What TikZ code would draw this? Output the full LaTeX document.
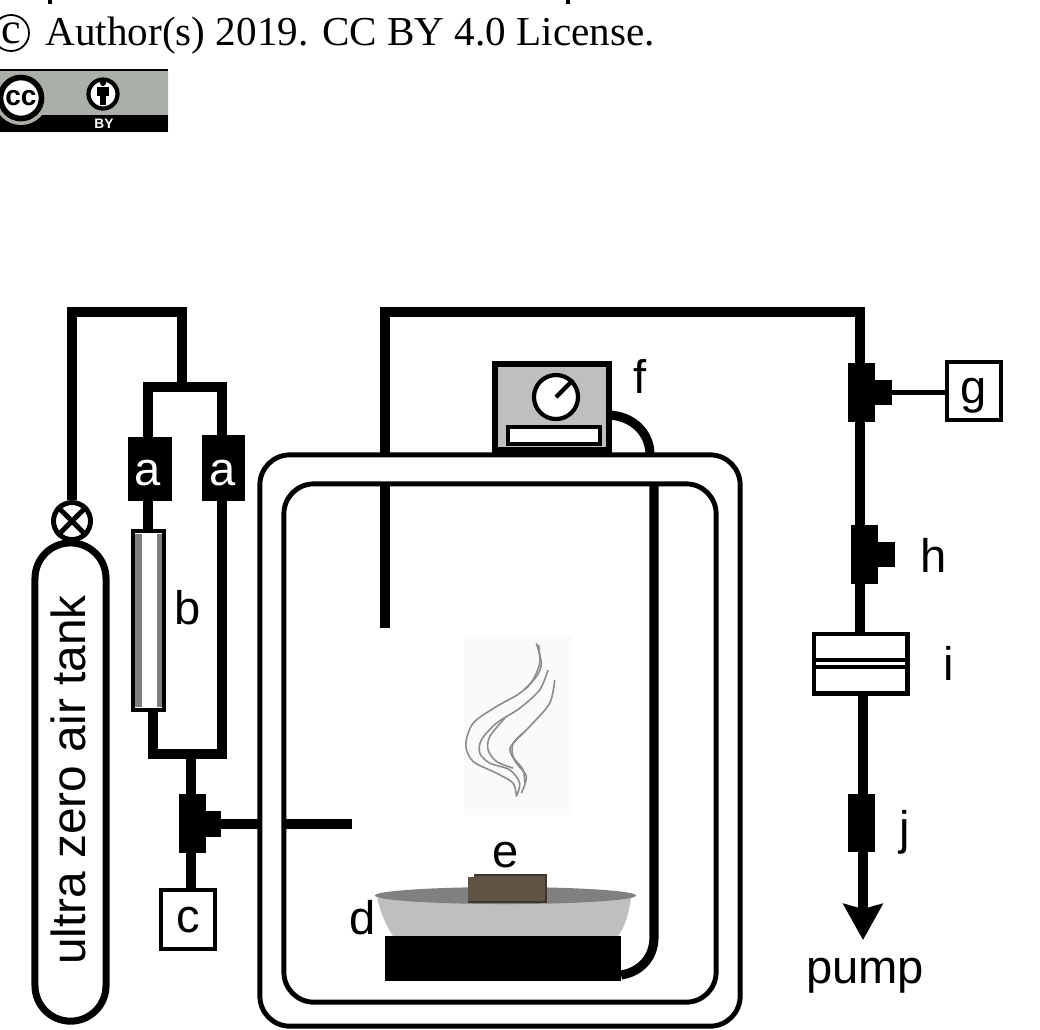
\documentclass[tikz,border=0pt]{standalone}
\usepackage{fontspec}
\setmainfont{Liberation Sans}
\newfontfamily\timesfont{Liberation Serif}
\usetikzlibrary{arrows.meta}
\definecolor{badgegray}{HTML}{AAB0A8}
\definecolor{samplebrown}{HTML}{5F5345}
\definecolor{sampleedge}{HTML}{3F372D}
\definecolor{smokegray}{HTML}{8C8C8C}
\tikzset{
    pipe/.style={line width=2.6pt},
    thinpipe/.style={line width=1.5pt},
    chamber/.style={draw, line width=1.4pt, rounded corners=0.3cm, inner sep=0pt, outer sep=0pt},
    blockbox/.style={fill=black, inner sep=0pt, outer sep=0pt},
    labelbox/.style={draw, line width=1.3pt, fill=white, inner sep=0pt, outer sep=0pt},
    tag/.style={anchor=base, inner sep=0pt, font=\fontsize{13.4}{15}\selectfont},
    strand/.style={smokegray, line width=0.45pt}
}
\begin{document}
\begin{tikzpicture}[x=0.01cm, y=-0.01cm]
    \useasboundingbox (0,0) rectangle (1040,1029);

    % journal footer
    \fill (48,0) rectangle (52,4);
    \fill (566,0) rectangle (570,4);
    \node (ringsign) [draw, circle, line width=0.5pt, minimum size=0.36cm, inner sep=0pt] at (11,33) {\timesfont\fontsize{12.5}{13}\selectfont c};
    \node (licence) [anchor=base west, inner sep=0pt] at (45,45) {\timesfont\fontsize{11.7}{14}\selectfont Author(s) 2019. CC BY 4.0 License.};

    % badge
    \fill[badgegray, rounded corners=0.02cm] (0,70) rectangle (168,132);
    \fill[black] (0,115) rectangle (168,132);
    \draw[black, line width=0.5pt] (0,70) -- (168,70);
    \fill[badgegray] (21,98) circle (27);
    \node (ccsign) [draw, circle, fill=white, line width=1.6pt, minimum size=0.41cm, inner sep=0pt, font=\bfseries\fontsize{8}{9}\selectfont] at (21,98) {cc};
    \node (bysign) [draw, circle, fill=white, line width=1.2pt, minimum size=0.29cm, inner sep=0pt] at (103,94) {};
    \fill (103,83) circle (3);
    \fill (97,87) rectangle (109,96);
    \fill (100,96) rectangle (106,105);
    \node (bytext) [anchor=base, text=white, inner sep=0pt, font=\bfseries\fontsize{3.9}{5}\selectfont] at (104,128) {BY};

    % chamber
    \node (outerwall) [chamber, minimum width=4.80cm, minimum height=5.71cm] at (500,740.5) {};
    \node (innerwall) [chamber, minimum width=4.32cm, minimum height=5.18cm] at (500,743) {};

    % smoke
    \fill[black!2] (464,636) rectangle (572,815);
    \begin{scope}[shift={(340,620)}, x=0.00333cm, y=-0.00333cm]
        \draw[strand] plot[smooth] coordinates {(590,70) (605,130) (590,170) (540,220) (470,260) (400,310) (378,375) (400,425) (470,460) (520,490) (530,530)};
        \draw[strand] plot[smooth] coordinates {(625,150) (600,210) (540,265) (470,310) (425,360) (420,400) (450,430) (510,450) (540,490) (530,530)};
        \draw[strand] plot[smooth] coordinates {(645,180) (630,250) (570,320) (530,360) (510,390) (530,430) (560,470) (545,520)};
        \draw[strand] plot[smooth] coordinates {(495,295) (450,350) (445,390) (470,425) (520,445)};
        \draw[strand] plot[smooth] coordinates {(550,340) (520,370) (520,410) (550,450) (555,490)};
        \draw[strand] plot[smooth] coordinates {(597,75) (600,130) (580,180) (555,210)};
    \end{scope}

    % dish and sample
    \fill[black!25] (377,898) .. controls (382,918) and (388,928) .. (393,936) -- (618,936) .. controls (624,928) and (628,918) .. (631,898) -- cycle;
    \fill[black!50] (505.5,895.5) ellipse (130.5 and 8.5);
    \node (sample) [fill=samplebrown, inner sep=0pt, minimum width=0.78cm, minimum height=0.25cm] at (507,889.5) {};
    \fill[samplebrown] (474,874) rectangle (546,878);
    \draw[sampleedge, line width=0.4pt] (474,875) -- (546,875) -- (546,902) -- (468,902);
    \node (heater) [blockbox, minimum width=2.36cm, minimum height=0.45cm] at (503,958.5) {};

    % monitor
    \node (monitor) [draw, fill=black!25, line width=1.7pt, inner sep=0pt, outer sep=0pt, minimum width=1.14cm, minimum height=0.86cm] at (552,407) {};
    \node (dial) [draw, circle, fill=white, line width=1.2pt, inner sep=0pt, minimum size=0.44cm] at (556,397) {};
    \draw[line width=1.2pt] (dial.center) -- (dial.45);
    \node (display) [draw, fill=white, line width=1.2pt, inner sep=0pt, minimum width=0.92cm, minimum height=0.17cm] at (554,435.5) {};

    % inlet side
    \node (tank) [draw, line width=2pt, rounded corners=0.355cm, inner sep=0pt, outer sep=0pt, minimum width=0.71cm, minimum height=4.78cm] at (70.5,782) {};
    \node (tanktext) [tag, rotate=90, font=\fontsize{13.6}{15}\selectfont] at (85,780) {ultra zero air tank};
    \node (valve) [draw, circle, fill=white, line width=1.4pt, inner sep=0pt, minimum size=0.37cm] at (72,521) {};
    \draw[line width=1.4pt] (valve.45) -- (valve.225) (valve.135) -- (valve.315);
    \node (mfcleft) [blockbox, minimum width=0.44cm, minimum height=0.64cm] at (150,469) {};
    \node (mfcright) [blockbox, minimum width=0.43cm, minimum height=0.66cm] at (223.5,468) {};
    \node (scrubber) [draw, fill=white, line width=1.3pt, inner sep=0pt, outer sep=0pt, minimum width=0.31cm, minimum height=1.79cm] at (148.5,620.5) {};
    \fill[black!50] (135,534) rectangle (142,707);
    \fill[black!50] (156.5,534) rectangle (162,707);
    \node (teeleft) [blockbox, minimum width=0.27cm, minimum height=0.59cm] at (192.5,823.5) {};
    \node (teeleftside) [blockbox, minimum width=0.20cm, minimum height=0.26cm] at (211,824) {};
    \node (boxc) [labelbox, minimum width=0.54cm, minimum height=0.59cm] at (188,919.5) {};

    % outlet side
    \node (teeright) [blockbox, minimum width=0.27cm, minimum height=0.59cm] at (861.5,392.5) {};
    \node (teerightside) [blockbox, minimum width=0.20cm, minimum height=0.25cm] at (882,392.5) {};
    \node (boxg) [labelbox, minimum width=0.54cm, minimum height=0.58cm] at (974,391) {};
    \node (blockh) [blockbox, minimum width=0.27cm, minimum height=0.59cm] at (864.5,554.5) {};
    \node (blockhside) [blockbox, minimum width=0.20cm, minimum height=0.25cm] at (885,554.5) {};
    \node (filter) [draw, line width=1.4pt, inner sep=0pt, outer sep=0pt, minimum width=0.93cm, minimum height=0.59cm] at (860.5,663.5) {};
    \draw[line width=1.2pt] (filter.west |- 0,660) -- (filter.east |- 0,660) (filter.west |- 0,667) -- (filter.east |- 0,667);
    \node (blockj) [blockbox, minimum width=0.27cm, minimum height=0.58cm] at (861.5,823) {};

    % tubing
    \coordinate (airtop) at (182,312);
    \coordinate (split) at (182,387);
    \coordinate (branchleft) at (148,387);
    \coordinate (branchright) at (222,387);
    \coordinate (mergeleft) at (153,754);
    \coordinate (mergeright) at (222,754);
    \coordinate (merge) at (191,754);
    \coordinate (inlettop) at (385,312);
    \coordinate (inletout) at (385,455);
    \coordinate (inletin) at (385,484);
    \coordinate (inletend) at (385,628);
    \coordinate (outlettop) at (860,312);
    \coordinate (pumpend) at (863,940);
    \coordinate (feedout) at (260,824);
    \coordinate (feedin) at (284,824);
    \coordinate (feedend) at (352,824);
    \coordinate (cableout) at (650,455);
    \coordinate (cablein) at (654,484);
    \coordinate (cablebend) at (654,937);

    \draw[pipe] (valve.north) |- (airtop) -- (split);
    \draw[pipe] (mfcleft.north -| branchleft) |- (branchright) -- (mfcright.north -| branchright);
    \draw[pipe] (mfcleft.south -| branchleft) -- (scrubber.north -| branchleft);
    \draw[pipe] (scrubber.south -| mergeleft) |- (mergeright) -- (mfcright.south -| mergeright);
    \draw[pipe] (merge) -- (teeleft.north -| merge);
    \draw[pipe] (teeleft.south -| merge) -- (boxc.north -| merge);
    \draw[pipe] (teeleftside.east) -- (feedout);
    \draw[pipe] (feedin) -- (feedend);
    \draw[pipe] (inletout) -- (inlettop) -- (outlettop) -- (filter.north -| outlettop);
    \draw[pipe] (inletin) -- (inletend);
    \draw[thinpipe] (teerightside.east) -- (teerightside.east -| boxg.west);
    \draw[pipe, -{Stealth[length=0.36cm, width=0.39cm, inset=0.05cm]}] (filter.south -| pumpend) -- (pumpend);
    \draw[pipe] (monitor.east |- 0,415) .. controls (632,416) and (650,432) .. (cableout);
    \draw[pipe] (cablein) -- (cablebend) .. controls (654,958) and (640,972) .. (heater.east |- 0,975);

    % labels
    \node (taga) [tag, text=white] at (148,485) {a};
    \node (tagaa) [tag, text=white] at (223,485) {a};
    \node (tagb) [tag] at (188,624) {b};
    \node (tagc) [tag] at (188,932) {c};
    \node (tagd) [tag] at (363,934) {d};
    \node (tage) [tag] at (506,867) {e};
    \node (tagf) [tag] at (640,393) {f};
    \node (tagg) [tag] at (974,403) {g};
    \node (tagh) [tag] at (934,572) {h};
    \node (tagi) [tag] at (949,680) {i};
    \node (tagj) [tag] at (905,844) {j};
    \node (tagpump) [tag] at (865,983) {pump};
\end{tikzpicture}
\end{document}
